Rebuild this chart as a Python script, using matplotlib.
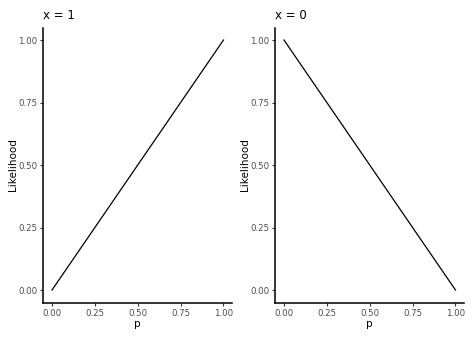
import numpy as np
import matplotlib.pyplot as plt

p = [0.0, 1.0]
lik_x1 = [0.0, 1.0]
lik_x0 = [1.0, 0.0]
ticks = [0.0, 0.25, 0.5, 0.75, 1.0]
tick_labels = ["0.00", "0.25", "0.50", "0.75", "1.00"]

fig = plt.figure(figsize=(4.74, 3.38), dpi=100)
panels = [(0.0916, "x = 1", lik_x1), (0.581, "x = 0", lik_x0)]

for left, title, lik in panels:
    ax = fig.add_axes([left, 0.105, 0.398, 0.8136])
    ax.plot(p, lik, color="black", lw=0.9)
    ax.set_xlim(-0.05, 1.05)
    ax.set_ylim(-0.05, 1.05)
    ax.set_xticks(ticks)
    ax.set_xticklabels(tick_labels)
    ax.set_yticks(ticks)
    ax.set_yticklabels(tick_labels)
    for s in ["top", "right"]:
        ax.spines[s].set_visible(False)
    for s in ["left", "bottom"]:
        ax.spines[s].set_linewidth(1.1)
    ax.tick_params(labelsize=6.2, labelcolor="#4d4d4d", color="#333333",
                   length=2.5, width=0.8, pad=2)
    ax.set_xlabel("p", fontsize=7.5, labelpad=1)
    ax.set_ylabel("Likelihood", fontsize=7.5, labelpad=0)
    ax.set_title(title, fontsize=8.5, loc="left", pad=6)

fig.savefig("out.png", dpi=100)
